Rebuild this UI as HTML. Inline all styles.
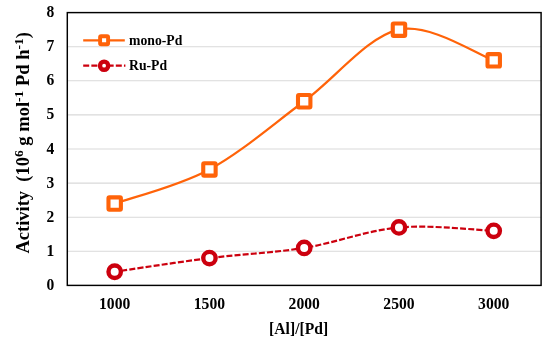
<!DOCTYPE html>
<html><head><meta charset="utf-8"><style>
html,body{margin:0;padding:0;background:#fff;}
body{width:550px;height:341px;overflow:hidden;}
svg{display:block;}
text{font-family:"Liberation Serif","Times New Roman",serif;font-weight:bold;fill:#000;}
</style></head><body>
<svg width="550" height="341" viewBox="0 0 550 341">
<rect width="550" height="341" fill="#fff"/>
<g stroke="#D9D9D9" stroke-width="1.1"><line x1="67.30" y1="251.30" x2="541.10" y2="251.30"/><line x1="67.30" y1="217.20" x2="541.10" y2="217.20"/><line x1="67.30" y1="183.10" x2="541.10" y2="183.10"/><line x1="67.30" y1="149.00" x2="541.10" y2="149.00"/><line x1="67.30" y1="114.90" x2="541.10" y2="114.90"/><line x1="67.30" y1="80.80" x2="541.10" y2="80.80"/><line x1="67.30" y1="46.70" x2="541.10" y2="46.70"/></g>
<rect x="67.3" y="12.6" width="473.80" height="272.80" fill="none" stroke="#000" stroke-width="1.45"/>
<g font-size="16.4" text-anchor="end"><text transform="translate(54.30,289.90) scale(0.950,1)">0</text><text transform="translate(54.30,255.80) scale(0.950,1)">1</text><text transform="translate(54.30,221.70) scale(0.950,1)">2</text><text transform="translate(54.30,187.60) scale(0.950,1)">3</text><text transform="translate(54.30,153.50) scale(0.950,1)">4</text><text transform="translate(54.30,119.40) scale(0.950,1)">5</text><text transform="translate(54.30,85.30) scale(0.950,1)">6</text><text transform="translate(54.30,51.20) scale(0.950,1)">7</text><text transform="translate(54.30,17.10) scale(0.950,1)">8</text></g>
<g font-size="16.4" text-anchor="middle"><text transform="translate(114.68,308.70) scale(0.955,1)">1000</text><text transform="translate(209.44,308.70) scale(0.955,1)">1500</text><text transform="translate(304.20,308.70) scale(0.955,1)">2000</text><text transform="translate(398.96,308.70) scale(0.955,1)">2500</text><text transform="translate(493.72,308.70) scale(0.955,1)">3000</text></g>
<text transform="translate(298.6,333.6) scale(0.964,1)" font-size="16.2" text-anchor="middle">[Al]/[Pd]</text>
<text transform="translate(28.6,253.6) rotate(-90) scale(1.0,1)" font-size="18.5">Activity&#160; (10<tspan font-size="13.5" dy="-5.7">6</tspan><tspan dy="5.7"> g mol</tspan><tspan font-size="13.5" dy="-5.7">-1</tspan><tspan dy="5.7"> Pd h</tspan><tspan font-size="13.5" dy="-5.7">-1</tspan><tspan dy="5.7">)</tspan></text>
<path d="M114.68,271.76 C130.47,269.49 177.85,262.10 209.44,258.12 C241.03,254.14 272.61,253.00 304.20,247.89 C335.79,242.77 367.37,230.27 398.96,227.43 C430.55,224.59 477.93,230.27 493.72,230.84" fill="none" stroke="#CC000E" stroke-width="2.2" stroke-dasharray="6.0 2.15" stroke-dashoffset="1.3"/>
<path d="M114.68,203.56 C130.47,197.88 177.85,186.51 209.44,169.46 C241.03,152.41 272.61,124.56 304.20,101.26 C335.79,77.96 367.37,36.47 398.96,29.65 C430.55,22.83 477.93,55.23 493.72,60.34" fill="none" stroke="#FF6309" stroke-width="2.2"/>
<g fill="#fff" stroke="#FF6309" stroke-width="4.1"><rect x="108.48" y="197.36" width="12.40" height="12.40" rx="0.9"/><rect x="203.24" y="163.26" width="12.40" height="12.40" rx="0.9"/><rect x="298.00" y="95.06" width="12.40" height="12.40" rx="0.9"/><rect x="392.76" y="23.45" width="12.40" height="12.40" rx="0.9"/><rect x="487.52" y="54.14" width="12.40" height="12.40" rx="0.9"/></g>
<g fill="#fff" stroke="#CC000E" stroke-width="4.4"><circle cx="114.68" cy="271.76" r="6.20"/><circle cx="209.44" cy="258.12" r="6.20"/><circle cx="304.20" cy="247.89" r="6.20"/><circle cx="398.96" cy="227.43" r="6.20"/><circle cx="493.72" cy="230.84" r="6.20"/></g>
<line x1="83.2" y1="40.3" x2="124.8" y2="40.3" stroke="#FF6309" stroke-width="2.2"/>
<rect x="100.1" y="36.2" width="8" height="8" rx="1" fill="#fff" stroke="#FF6309" stroke-width="3.9"/>
<text transform="translate(129,44.7) scale(0.94,1)" font-size="14.6">mono-Pd</text>
<line x1="83.2" y1="65.6" x2="125.4" y2="65.6" stroke="#CC000E" stroke-width="2.2" stroke-dasharray="6.0 2.15"/>
<circle cx="104.1" cy="65.7" r="4.1" fill="#fff" stroke="#CC000E" stroke-width="4.4"/>
<text transform="translate(129,70) scale(0.94,1)" font-size="14.6">Ru-Pd</text>
</svg>
</body></html>
